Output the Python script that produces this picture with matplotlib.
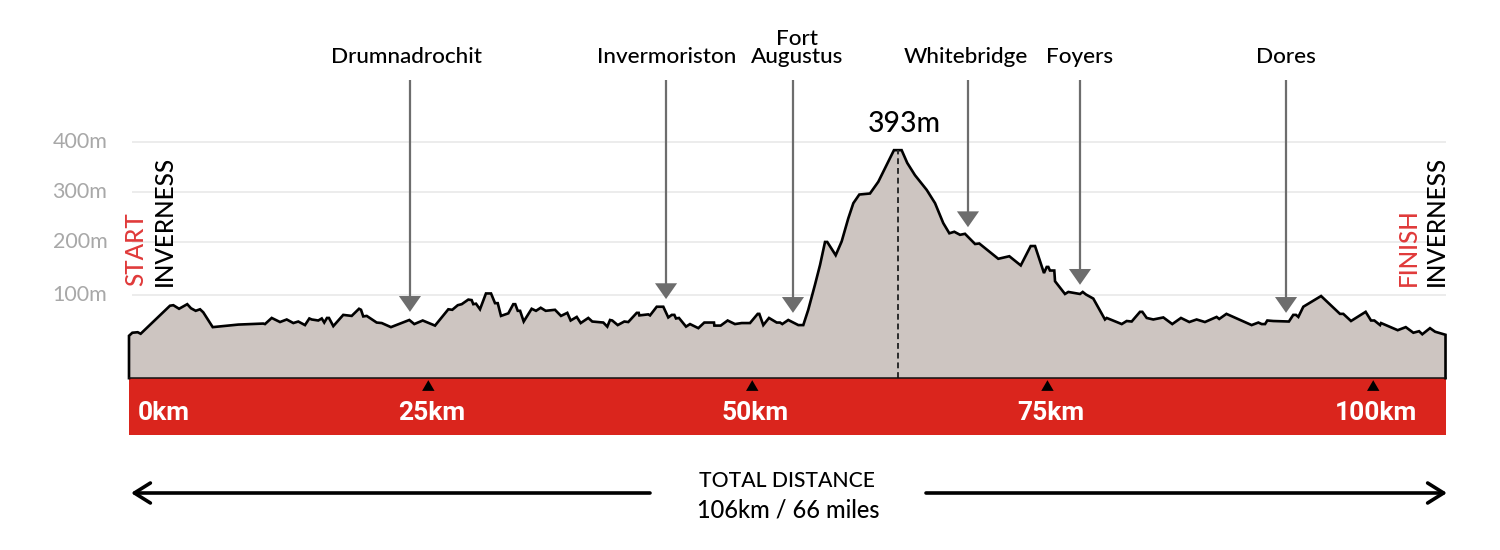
import matplotlib
matplotlib.use('Agg')
import matplotlib.pyplot as plt

plt.rcParams['font.family'] = ['Lato', 'DejaVu Sans']

# route profile
profile_km = [0, 0.27, 0.70, 0.94, 3.30, 3.57, 4.03, 4.69, 4.99, 5.37, 5.72, 5.98, 6.74, 8.80, 10.81, 10.95,
              11.49, 12.16, 12.70, 13.23, 13.63, 14.17, 14.52, 14.71, 15.24, 15.52, 15.72, 15.94, 16.10, 16.45,
              17.25, 17.93, 18.52, 18.68, 18.86, 19.14, 19.94, 20.35, 21.09, 22.57, 22.97, 23.65, 24.64, 25.71,
              26.03, 26.47, 26.79, 27.32, 27.59, 27.72, 27.94, 28.26, 28.74, 29.15, 29.47, 29.69, 29.95, 30.54,
              30.94, 31.10, 31.30, 31.49, 31.78, 32.42, 32.77, 33.15, 33.55, 34.30, 34.78, 35.29, 35.56, 36.05,
              36.37, 36.98, 37.30, 38.19, 38.51, 38.73, 38.91, 39.35, 39.88, 40.20, 40.88, 41.04, 41.09, 41.81,
              41.95, 42.49, 43.02, 43.42, 43.70, 43.91, 44.04, 44.28, 44.85, 45.17, 45.84, 46.32, 47.10, 47.13,
              47.64, 48.20, 48.79, 49.33, 50.00, 50.62, 50.75, 51.07, 51.53, 52.15, 52.42, 52.60, 53.08, 53.89,
              54.29, 54.69, 55.23, 55.64, 56.04, 56.22, 56.90, 57.38, 57.91, 58.32, 58.80, 59.66, 60.33, 61.59,
              62.21, 62.66, 63.28, 64.23, 64.90, 65.56, 66.05, 66.45, 66.91, 67.31, 68.12, 68.46, 69.99, 70.88,
              71.80, 72.60, 72.95, 73.67, 73.89, 74.02, 74.15, 74.50, 74.56, 75.36, 75.63, 76.57, 76.79, 77.05,
              77.64, 78.58, 78.72, 79.93, 80.33, 80.73, 81.40, 81.59, 81.94, 82.47, 83.28, 84.00, 84.70, 85.37,
              85.96, 86.63, 87.57, 87.78, 88.36, 90.39, 90.93, 91.20, 91.47, 91.65, 92.13, 93.39, 93.74, 93.96,
              94.15, 94.55, 95.98, 97.50, 97.77, 98.39, 99.57, 100.00, 100.27, 100.73, 100.81, 102.15, 102.80,
              103.41, 103.87, 104.13, 104.75, 105.16, 106.00]
profile_m = [20, 26, 27, 24, 79, 80, 73, 82, 74, 69, 72, 66, 37, 42, 44, 43,
             55, 47, 52, 45, 48, 41, 54, 52, 50, 54, 46, 55, 55, 39,
             61, 59, 73, 71, 58, 59, 46, 45, 37, 51, 43, 50, 40, 72,
             71, 80, 82, 91, 90, 82, 83, 72, 103, 103, 84, 84, 59, 64,
             82, 82, 69, 69, 48, 73, 69, 75, 69, 71, 59, 65, 50, 57,
             45, 55, 48, 46, 38, 51, 50, 41, 48, 47, 65, 65, 60, 62,
             60, 77, 77, 56, 61, 61, 54, 55, 38, 43, 35, 46, 46, 40,
             40, 50, 43, 45, 45, 63, 63, 41, 55, 46, 46, 43, 51, 41,
             41, 71, 120, 159, 204, 204, 178, 205, 250, 280, 297, 299, 322, 384,
             384, 359, 335, 306, 280, 241, 221, 224, 218, 220, 200, 201, 171, 176,
             158, 196, 196, 143, 155, 155, 148, 148, 127, 102, 106, 102, 106, 101,
             93, 52, 55, 43, 49, 48, 67, 67, 55, 52, 56, 43, 55, 47,
             52, 47, 57, 53, 63, 41, 46, 43, 43, 50, 49, 48, 61, 61,
             57, 77, 98, 63, 63, 49, 67, 50, 50, 41, 45, 31, 37,
             26, 29, 23, 35, 28, 22]

grid_m = [400, 302, 204, 100]
grid_labels = ['400m', '300m', '200m', '100m']

towns = ['Drumnadrochit', 'Invermoriston', 'Fort\nAugustus', 'Whitebridge', 'Foyers', 'Dores']
town_km = [22.62, 43.24, 53.46, 67.55, 76.57, 93.16]
town_label_km = [22.38, 43.32, 53.78, 67.39, 76.57, 93.16]
town_tip_m = [67, 92, 65, 233, 120, 65]

mark_km = [0, 24.1, 50.18, 73.95, 100.18]
mark_labels = ['0km', '25km', '50km', '75km', '100km']

peak_km = 61.92
peak_label = '393m'

W, H = 1500, 550
PX_KM = 12.42
PX_M = 0.51
BASE = -63
BAND = -174.5


def P(x, y):
    return x / W, 1 - y / H


def label(x, y, s, **kw):
    kw.setdefault('ha', 'center')
    kw.setdefault('va', 'baseline')
    return ax.text(*P(x, y), s, transform=ax.transAxes, **kw)


fig = plt.figure(figsize=(15, 5.5), dpi=100)
ax = fig.add_axes([0, 0, 1, 1])
ax.set_xlim(-129 / PX_KM, (W - 129) / PX_KM)
ax.set_ylim((346 - H) / PX_M, 346 / PX_M)
ax.axis('off')

# grid
for g, t in zip(grid_m, grid_labels):
    ax.plot([0.25, 106], [g, g], color='#ececec', lw=1.4, zorder=1, solid_capstyle='butt')
    ax.text(P(80, 0)[0], g, t, transform=ax.get_yaxis_transform(), ha='center', va='center',
            fontsize=15.5, color='#a8a8a8')

# profile
ax.fill_between(profile_km, BASE, profile_m, color='#cdc5c1', lw=0, zorder=2)
ax.plot([0] + profile_km + [106], [BASE] + profile_m + [BASE], color='black', lw=1.9, zorder=3,
        solid_joinstyle='miter')
ax.plot([peak_km, peak_km], [BASE, 384], color='#2b2b2b', lw=1.4, ls=(0, (3, 2)), zorder=3)
label(904, 132, peak_label, fontsize=20.5, color='black', fontweight='medium')

# distance band
ax.fill_between([0, 106], BAND, BASE, color='#da251d', lw=0, zorder=2)
ax.plot([0, 106], [BASE, BASE], color='#111111', lw=1.1, zorder=3)
for k, t in zip(mark_km, mark_labels):
    if k > 0:
        ax.fill([k - 0.5, k + 0.5, k], [BASE - 25, BASE - 25, BASE - 4], color='black', lw=0, zorder=4)
        x = 129 + k * PX_KM + 3
    else:
        x = 163.5
    label(x, 420, t, fontsize=19, fontweight='bold', color='white', family='Roboto', zorder=5)

# towns
for name, k, lk, tip in zip(towns, town_km, town_label_km, town_tip_m):
    ax.plot([k, k], [tip + 20, (346 - 80) / PX_M], color='#6d6d6d', lw=1.6, zorder=4,
            solid_capstyle='butt')
    ax.fill([k - 0.89, k + 0.89, k], [tip + 31, tip + 31, tip], color='#6d6d6d', lw=0, zorder=4)
    ax.text(lk, (346 - 63) / PX_M, name, ha='center', va='baseline', fontsize=16.2, color='black',
            fontweight='medium', linespacing=0.85, zorder=5)

# start / finish
label(136, 286, 'START', rotation=90, ha='center', va='bottom', fontsize=17.5, color='#e03a3a', fontweight='medium')
label(164, 286, 'INVERNESS', rotation=90, ha='center', va='bottom', fontsize=17.5, color='black', fontweight='medium')
label(1408, 286, 'FINISH', rotation=90, ha='center', va='bottom', fontsize=17.5, color='#e03a3a', fontweight='medium')
label(1436, 286, 'INVERNESS', rotation=90, ha='center', va='bottom', fontsize=17.5, color='black', fontweight='medium')

# total distance
arrow = dict(arrowstyle='->,head_length=1.15,head_width=0.72', lw=2.6, color='black', shrinkA=0, shrinkB=0,
             mutation_scale=10)
ax.annotate('', xy=P(131, 493), xytext=P(650, 493), xycoords='axes fraction', textcoords='axes fraction',
            arrowprops=arrow)
ax.annotate('', xy=P(1447, 493), xytext=P(926, 493), xycoords='axes fraction', textcoords='axes fraction',
            arrowprops=arrow)
label(787, 487, 'TOTAL DISTANCE', fontsize=15.2, color='black', fontweight='medium')
label(788, 518, '106km / 66 miles', fontsize=17, color='black', fontweight='medium')

fig.savefig('out.png', dpi=100)
